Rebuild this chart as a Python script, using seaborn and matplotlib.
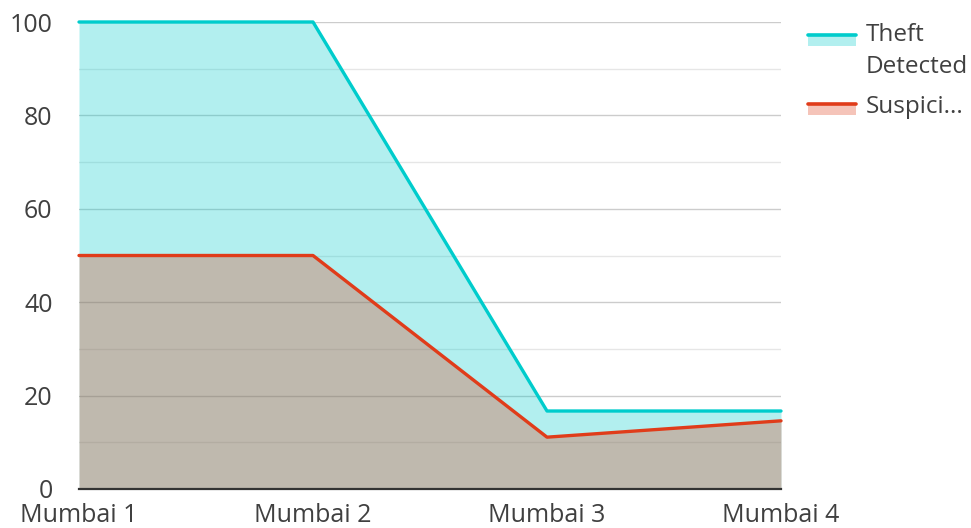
import matplotlib
matplotlib.use("Agg")
import matplotlib.pyplot as plt
import pandas as pd
import seaborn as sns
from matplotlib.lines import Line2D
from matplotlib.patches import Rectangle

# Chart data
locations = ["Mumbai 1", "Mumbai 2", "Mumbai 3", "Mumbai 4"]
theft_detected = [100, 100, 16.7, 16.7]
suspicious = [50, 50, 11.1, 14.6]
series_labels = ["Theft\nDetected", "Suspici..."]
y_ticks = [0, 20, 40, 60, 80, 100]

cyan = "#00cccc"
red = "#e03c1a"
text_color = "#404040"

sns.set_style("white")
plt.rcParams['font.family'] = ['Open Sans', 'DejaVu Sans']

df = pd.DataFrame({"x": range(len(locations)),
                   "theft": theft_detected,
                   "susp": suspicious})

fig = plt.figure(figsize=(9.71, 5.28), dpi=100)
W, H = 971, 528
ax = fig.add_axes([79 / W, 1 - 489 / H, (781 - 79) / W, (489 - 22) / H])

# grid
for v in range(10, 101, 10):
    col = "#cccccc" if v % 20 == 0 else "#e6e6e6"
    ax.axhline(v, color=col, lw=1, zorder=0)

ax.fill_between(df["x"], df["theft"], color=cyan, alpha=0.3, lw=0, zorder=1)
ax.fill_between(df["x"], df["susp"], color=red, alpha=0.3, lw=0, zorder=2)
sns.lineplot(data=df, x="x", y="theft", color=cyan, lw=2.4, ax=ax,
             zorder=3, clip_on=False)
sns.lineplot(data=df, x="x", y="susp", color=red, lw=2.4, ax=ax,
             zorder=4, clip_on=False)

ax.set_xlim(0, len(locations) - 1)
ax.set_ylim(0, 100)
ax.set_xticks(df["x"])
ax.set_xticklabels(locations)
ax.set_yticks(y_ticks)
ax.set_xlabel("")
ax.set_ylabel("")
ax.tick_params(axis="both", length=0, labelsize=18, colors=text_color)
ax.tick_params(axis="x", pad=10)
ax.tick_params(axis="y", pad=19)
for s in ["top", "right", "left"]:
    ax.spines[s].set_visible(False)
ax.spines["bottom"].set_color("#333333")
ax.spines["bottom"].set_linewidth(1.6)
ax.spines["bottom"].set_zorder(5)

# legend drawn in figure pixels
def px(x, y):
    return x / W, 1 - y / H

legend_rows = [(35, cyan, 12), (104, red, 9)]
for (ly, col, off), lab in zip(legend_rows, series_labels):
    x0, y0 = px(808, ly + 11)
    fig.add_artist(Rectangle((x0, y0), 48 / W, 10 / H, transform=fig.transFigure,
                             facecolor=col, alpha=0.3, lw=0))
    fig.add_artist(Line2D([808 / W, 856 / W], [1 - ly / H, 1 - ly / H],
                          transform=fig.transFigure, color=col, lw=2.6))
    fig.text(866 / W, 1 - (ly - off) / H, lab, fontsize=17.5, color=text_color,
             va="top", ha="left", linespacing=1.42)

fig.savefig("out.png", dpi=100)
